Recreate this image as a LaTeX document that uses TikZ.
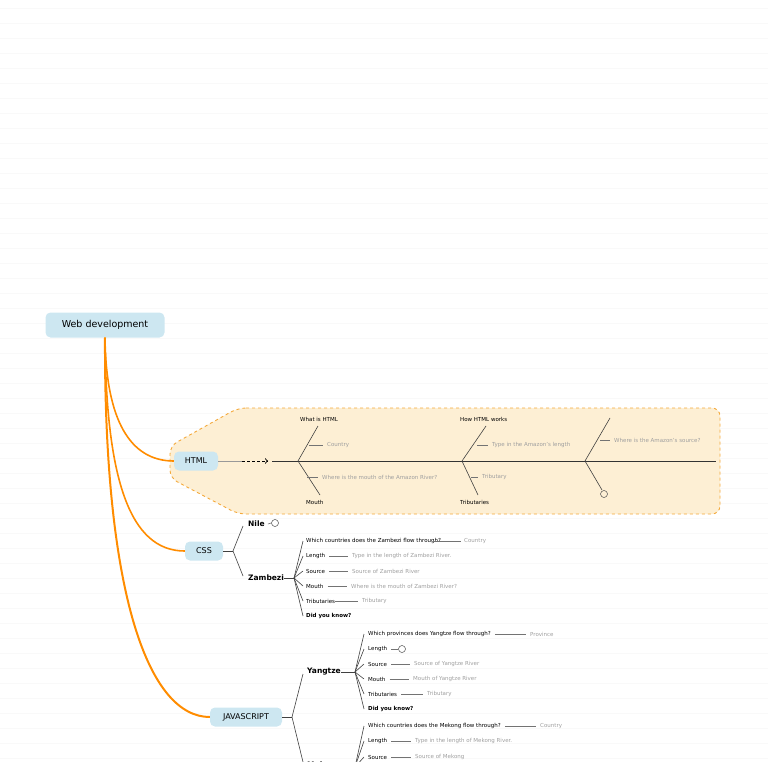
\documentclass[tikz,border=0pt]{standalone}
\usepackage{fontspec}
\setmainfont{DejaVu Sans}
\begin{document}
\begin{tikzpicture}[x=1pt,y=-1pt,
  topic/.style={fill=topicblue,rounded corners=5pt,minimum height=19pt,inner xsep=8pt,font=\fontsize{8}{9}\selectfont},
  lab/.style={anchor=west,inner sep=0pt,font=\fontsize{5.5}{6}\selectfont},
  gl/.style={lab,text=gray!75},
  bl/.style={lab,font=\fontsize{5.5}{6}\bfseries\selectfont},
  big/.style={anchor=west,inner sep=0pt,font=\fontsize{7.5}{8}\bfseries\selectfont},
  br/.style={draw=black!75,line width=0.6pt},
  sb/.style={draw=black!55,line width=0.6pt},
  conn/.style={draw=orange!90!yellow,line width=1.6pt}]
\definecolor{topicblue}{HTML}{CDE7F1}
\definecolor{boxfill}{HTML}{FDEFD4}
\definecolor{boxdraw}{HTML}{F4A93A}
\useasboundingbox (0,0) rectangle (768,762);
\clip (0,0) rectangle (768,762);
\foreach \y in {8,23,...,762} \draw[black!2.5,line width=0.4pt] (0,\y)--(768,\y);
% HTML box
\draw[boxdraw,dashed,fill=boxfill,line width=0.9pt,rounded corners=8pt]
  (238,408)--(720,408)--(720,514)--(238,514)--(170,478)--(170,446)--cycle;
% topics
\node[topic,font=\fontsize{9.5}{10}\selectfont,minimum height=25pt,minimum width=119pt] (root) at (105,325) {Web development};
\node[topic,minimum width=44pt] (html) at (196,461) {HTML};
\node[topic,minimum width=38pt] (css) at (204,551) {CSS};
\node[topic,minimum width=72pt] (js) at (246,717) {JAVASCRIPT};
\draw[conn] (root.south) .. controls (106,420) and (130,461) .. (html.west);
\draw[conn] (root.south) .. controls (106,480) and (130,551) .. (css.west);
\draw[conn,line width=2pt] (root.south) .. controls (104,600) and (150,717) .. (js.west);
% HTML fishbone
\coordinate (a1) at (242,461); \coordinate (a2) at (268,461);
\draw[black!40,line width=0.6pt] (html.east)--(a1);
\draw[densely dashed,line width=1pt,-{>}] (a1)--(a2);
\coordinate (s0) at (272,461); \coordinate (s1) at (716,461);
\draw[black!80,line width=0.9pt] (s0)--(s1);
\coordinate (b1) at (298,461); \coordinate (b2) at (462,461); \coordinate (b3) at (585,461);
\node[lab] (t1) at (300,419) {What is HTML};
\node[lab] (t2) at (306,502) {Mouth};
\node[lab] (t3) at (460,419) {How HTML works};
\node[lab] (t4) at (460,502) {Tributaries};
\draw[br] (b1)--(318,426); \draw[br] (b1)--(320,495);
\draw[br] (b2)--(486,426); \draw[br] (b2)--(478,495);
\draw[br] (b3)--(610,418); \draw[br] (b3)--(602,490);
\node[draw=black!70,circle,inner sep=0pt,minimum size=7pt,line width=0.5pt] (clk) at (604,494) {};
\node[gl] (g1) at (327,445) {Country};
\node[gl] (g2) at (322,477) {Where is the mouth of the Amazon River?};
\node[gl] (g3) at (492,445) {Type in the Amazon's length};
\node[gl] (g4) at (482,477) {Tributary};
\node[gl] (g5) at (614,440) {Where is the Amazon's source?};
\draw[sb] (309,445)--([xshift=-4pt]g1.west); \draw[sb] (307,477)--([xshift=-4pt]g2.west);
\draw[sb] (477,445)--([xshift=-4pt]g3.west); \draw[sb] (471,477)--([xshift=-4pt]g4.west);
\draw[sb] (600,440)--([xshift=-4pt]g5.west);
% CSS
\coordinate (c0) at (233,551);
\draw[br] (css.east)--(c0);
\node[big] (nile) at (248,524) {Nile};
\node[big] (zam) at (248,578) {Zambezi};
\draw[br] (c0)--(243,526); \draw[br] (c0)--(243,576);
\node[draw=black!70,circle,inner sep=0pt,minimum size=7pt,line width=0.5pt] (nc) at (275,523) {};
\draw[sb] (nile.east)++(3,0)--(nc.west);
\coordinate (z0) at (294,578);
\draw[br] (zam.east)--(z0);
\foreach \yy in {541,556,571,586,601,616} \draw[br] (z0)--(303,\yy);
\node[lab] (z1) at (306,541) {Which countries does the Zambezi flow through?};
\node[lab] (z2) at (306,556) {Length};
\node[lab] (z3) at (306,571) {Source};
\node[lab] (z4) at (306,586) {Mouth};
\node[lab] (z5) at (306,601) {Tributaries};
\node[bl] (z6) at (306,616) {Did you know?};
\node[gl] (zg1) at (464,541) {Country};
\node[gl] (zg2) at (352,556) {Type in the length of Zambezi River.};
\node[gl] (zg3) at (352,571) {Source of Zambezi River};
\node[gl] (zg4) at (351,586) {Where is the mouth of Zambezi River?};
\node[gl] (zg5) at (362,601) {Tributary};
\draw[sb] (z1.east)++(-8,0)--([xshift=-3pt]zg1.west);
\draw[sb] ([xshift=4pt]z2.east)--([xshift=-4pt]zg2.west);
\draw[sb] ([xshift=4pt]z3.east)--([xshift=-4pt]zg3.west);
\draw[sb] ([xshift=4pt]z4.east)--([xshift=-4pt]zg4.west);
\draw[sb] ([xshift=0pt]z5.east)--([xshift=-4pt]zg5.west);
% JAVASCRIPT
\coordinate (j0) at (292,717);
\draw[br] (js.east)--(j0);
\node[big] (yan) at (307,672) {Yangtze};
\node[big] (mek) at (307,765) {Mekong};
\draw[br] (j0)--(303,674); \draw[br] (j0)--(303,762);
\coordinate (y0) at (355,672);
\draw[br] (yan.east)--(y0);
\foreach \yy in {634,649,664,679,694,709} \draw[br] (y0)--(364,\yy);
\node[lab] (y1) at (368,634) {Which provinces does Yangtze flow through?};
\node[lab] (y2) at (368,649) {Length};
\node[lab] (y3) at (368,664) {Source};
\node[lab] (y4) at (368,679) {Mouth};
\node[lab] (y5) at (368,694) {Tributaries};
\node[bl] (y6) at (368,709) {Did you know?};
\node[gl] (yg1) at (530,634) {Province};
\node[draw=black!70,circle,inner sep=0pt,minimum size=7pt,line width=0.5pt] (yc) at (402,649) {};
\node[gl] (yg3) at (414,664) {Source of Yangtze River};
\node[gl] (yg4) at (413,679) {Mouth of Yangtze River};
\node[gl] (yg5) at (427,694) {Tributary};
\draw[sb] ([xshift=4pt]y1.east)--([xshift=-4pt]yg1.west);
\draw[sb] ([xshift=4pt]y2.east)--(yc.west);
\draw[sb] ([xshift=4pt]y3.east)--([xshift=-4pt]yg3.west);
\draw[sb] ([xshift=4pt]y4.east)--([xshift=-4pt]yg4.west);
\draw[sb] ([xshift=4pt]y5.east)--([xshift=-4pt]yg5.west);
\coordinate (m0) at (355,767);
\foreach \yy in {726,741,757} \draw[br] (m0)--(364,\yy);
\node[lab] (m1) at (368,726) {Which countries does the Mekong flow through?};
\node[lab] (m2) at (368,741) {Length};
\node[lab] (m3) at (368,757) {Source};
\node[gl] (mg1) at (540,726) {Country};
\node[gl] (mg2) at (415,741) {Type in the length of Mekong River.};
\node[gl] (mg3) at (415,757) {Source of Mekong};
\draw[sb] ([xshift=4pt]m1.east)--([xshift=-4pt]mg1.west);
\draw[sb] ([xshift=4pt]m2.east)--([xshift=-4pt]mg2.west);
\draw[sb] ([xshift=4pt]m3.east)--([xshift=-4pt]mg3.west);
\end{tikzpicture}
\end{document}
